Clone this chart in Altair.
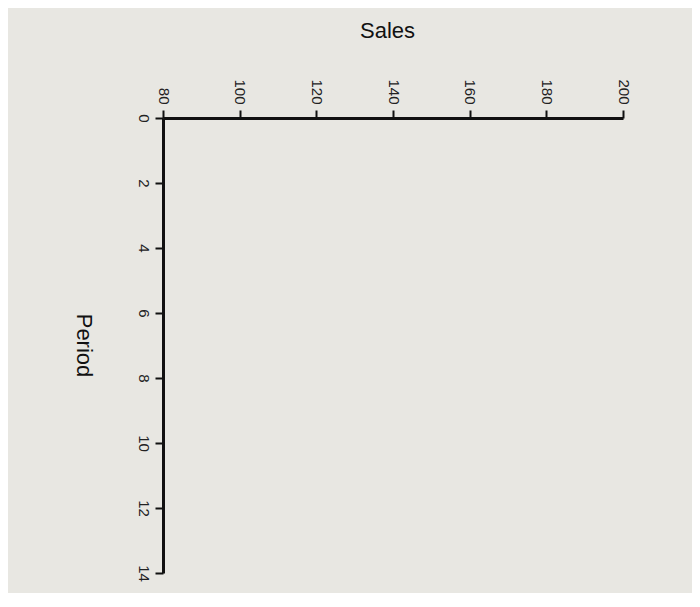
import pandas as pd
import altair as alt

# empty worksheet: only the two axes, drawn on their own scales
period_ticks = [0, 2, 4, 6, 8, 10, 12, 14]
sales_ticks = [80, 100, 120, 140, 160, 180, 200]

data = pd.DataFrame({"Period": [0, 14], "Sales": [80, 200]})

FONT = "Liberation Sans"

chart = alt.Chart(data).mark_point(opacity=0).encode(
    alt.X("Sales:Q",
          scale=alt.Scale(domain=[80, 200], nice=False, zero=False),
          axis=alt.Axis(orient="top", values=sales_ticks, grid=False,
                        labelAngle=90, labelAlign="right", labelBaseline="middle",
                        labelPadding=6, labelFlush=False, labelOverlap=False,
                        labelFont=FONT, labelFontSize=15, labelColor="#222222",
                        tickSize=8, title="Sales", titleAngle=0,
                        titleX=224, titleY=-81, titleAlign="center",
                        titleBaseline="alphabetic")),
    alt.Y("Period:Q",
          scale=alt.Scale(domain=[0, 14], nice=False, zero=False, reverse=True),
          axis=alt.Axis(orient="left", values=period_ticks, grid=False,
                        labelAngle=90, labelAlign="center", labelBaseline="top",
                        labelPadding=5, labelFlush=False, labelOverlap=False,
                        labelFont=FONT, labelFontSize=15, labelColor="#222222",
                        tickSize=8, title="Period", titleAngle=90,
                        titleX=-87, titleY=227, titleAlign="center",
                        titleBaseline="alphabetic")),
).properties(
    width=460, height=455,
    autosize=alt.AutoSizeParams(type="none"),
    padding={"left": 155, "top": 110, "right": 69, "bottom": 20},
).configure(
    background="#e8e7e2"
).configure_view(
    strokeWidth=0
).configure_axis(
    domainColor="#111111", domainWidth=3,
    tickColor="#111111", tickWidth=2,
    titleFont=FONT, titleFontSize=22, titleFontWeight="normal", titleColor="#111111",
)

chart.save("out.html", embed_options={"renderer": "svg", "actions": False})
